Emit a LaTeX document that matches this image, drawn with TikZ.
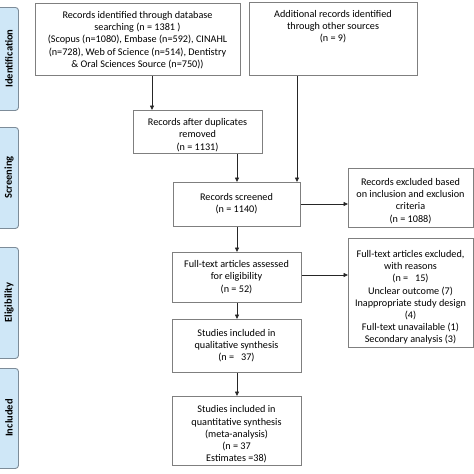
\documentclass[tikz,border=0pt]{standalone}
\usepackage{fontspec}
\setmainfont{Carlito}
\usetikzlibrary{arrows.meta}
\definecolor{boxgray}{HTML}{7F7F7F}
\definecolor{sidefill}{HTML}{CFE7F7}
\definecolor{sidedraw}{HTML}{7D8C99}
\tikzset{
  box/.style={draw=boxgray, line width=1pt, anchor=north west, inner sep=0pt},
  txt/.style={align=center, font=\fontsize{10.2}{12.2}\selectfont, inner sep=0pt},
  side/.style={draw=sidedraw, fill=sidefill, line width=0.9pt, rounded corners=3pt, anchor=north west, inner sep=0pt},
  sidetxt/.style={rotate=90, font=\fontsize{10.5}{12}\selectfont\bfseries, inner sep=0pt},
  arr/.style={draw=black!85, line width=0.8pt, -{Triangle[length=4.5pt,width=4pt]}}
}
\begin{document}
\begin{tikzpicture}[x=1pt,y=-1pt]
\useasboundingbox (0,0) rectangle (474,474);
% side labels
\node[side, minimum width=24pt, minimum height=103pt] (s1) at (-6,7) {};
\node[sidetxt] at (9,58.5) {Identification};
\node[side, minimum width=24pt, minimum height=101pt] (s2) at (-6,127) {};
\node[sidetxt] at (9,177.5) {Screening};
\node[side, minimum width=24pt, minimum height=111pt] (s3) at (-6,247) {};
\node[sidetxt] at (9,302.5) {Eligibility};
\node[side, minimum width=24pt, minimum height=100pt] (s4) at (-6,368) {};
\node[sidetxt] at (9,418) {Included};
% boxes
\node[box, minimum width=205pt, minimum height=72pt] (b1) at (35,3) {};
\node[txt] at (137.5,40) {Records identified through database\\searching (n = 1381 )\\(Scopus (n=1080), Embase (n=592), CINAHL\\(n=728), Web of Science (n=514), Dentistry\\\& Oral Sciences Source (n=750))};
\node[box, minimum width=168pt, minimum height=73pt] (b2) at (249,2) {};
\node[txt, anchor=north] at (333,10) {Additional records identified\\through other sources\\(n = 9)};
\node[box, minimum width=129pt, minimum height=43pt] (b3) at (133,110) {};
\node[txt] at (197.5,135) {Records after duplicates\\removed\\(n = 1131)};
\node[box, minimum width=127pt, minimum height=44pt] (b4) at (173,182) {};
\node[txt] at (236.5,203.5) {Records screened\\(n = 1140)};
\node[box, minimum width=125pt, minimum height=59pt] (b5) at (348,168) {};
\node[txt] at (410.5,201) {Records excluded based\\on inclusion and exclusion\\criteria\\(n = 1088)};
\node[box, minimum width=129pt, minimum height=50pt] (b6) at (172,252) {};
\node[txt] at (236.5,277) {Full-text articles assessed\\for eligibility\\(n = 52)};
\node[box, minimum width=125pt, minimum height=109pt] (b7) at (348,238) {};
\node[txt] at (410.5,297.5) {Full-text articles excluded,\\with reasons\\(n =~~~15)\\Unclear outcome (7)\\Inappropriate study design\\(4)\\Full-text unavailable (1)\\Secondary analysis (3)};
\node[box, minimum width=129pt, minimum height=53pt] (b8) at (172,319) {};
\node[txt] at (236.5,345.5) {Studies included in\\qualitative synthesis\\(n =~~~37)};
\node[box, minimum width=129pt, minimum height=69pt] (b9) at (172,396) {};
\node[txt] at (236.5,434.5) {Studies included in\\quantitative synthesis\\(meta-analysis)\\(n = 37\\Estimates =38)};
% connector x positions
\coordinate (xa) at (152,0);
\coordinate (xb) at (297,0);
\coordinate (xc) at (237,0);
% connectors
\draw[arr] (b1.south -| xa) -- (b3.north -| xa);
\draw[arr] (b2.south -| xb) -- (b4.north -| xb);
\draw[arr] (b3.south -| xc) -- (b4.north -| xc);
\draw[arr] (b4.east |- 0,204) -- (b5.west |- 0,204);
\draw[arr] (b4.south -| xc) -- (b6.north -| xc);
\draw[arr] (b6.east |- 0,275) -- (b7.west |- 0,275);
\draw[arr] (b6.south -| xc) -- (b8.north -| xc);
\draw[arr] (b8.south -| xc) -- (b9.north -| xc);
\end{tikzpicture}
\end{document}
